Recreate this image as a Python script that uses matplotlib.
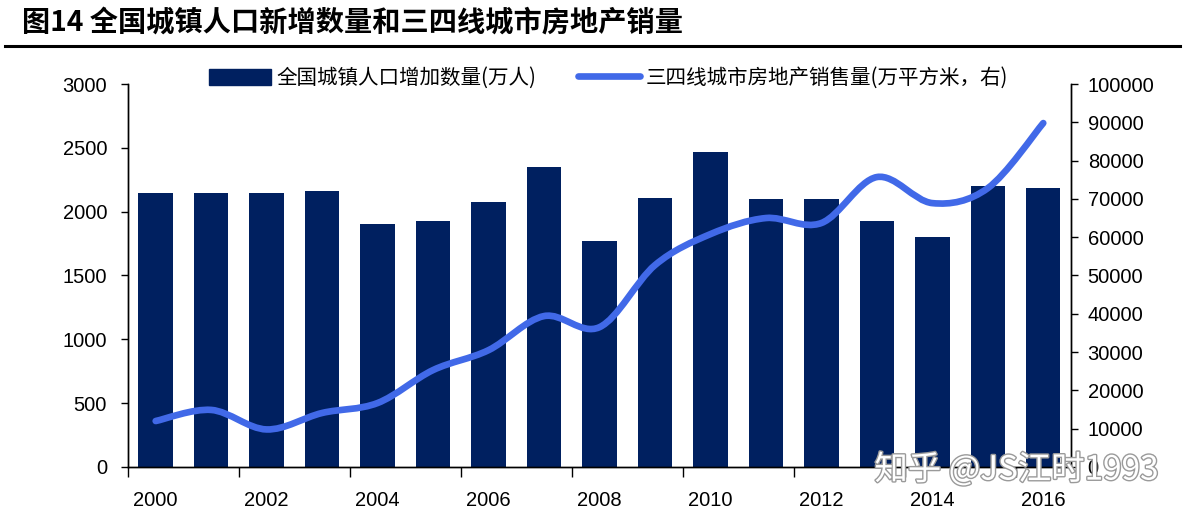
import matplotlib
matplotlib.use("Agg")
import matplotlib.pyplot as plt
from matplotlib.path import Path
from matplotlib.patches import PathPatch, Patch
from matplotlib.lines import Line2D
import matplotlib.patheffects as pe
import numpy as np

plt.rcParams['font.family'] = ['Liberation Sans', 'Noto Sans CJK SC', 'DejaVu Sans']

years = list(range(2000, 2017))
# 全国城镇人口增加数量(万人)
pop_added = [2150, 2150, 2145, 2160, 1905, 1925, 2075, 2350, 1770, 2105,
             2465, 2100, 2100, 1930, 1805, 2200, 2185]
# 三四线城市房地产销售量(万平方米)
sales_34 = [12000, 14900, 9800, 14100, 16700, 25300, 30500, 39400, 36500, 52700,
            60800, 65000, 63700, 75700, 68900, 72800, 89800]
xtick_years = years[::2]

bar_color = '#002060'
line_color = '#4169E8'
cjk = ['Noto Sans CJK SC', 'DejaVu Sans']

fig = plt.figure(figsize=(11.98, 5.27), dpi=100)
ax = fig.add_axes([0.1068, 0.1139, 0.7872, 0.7267])
ax2 = ax.twinx()

x = np.arange(len(years))
ax.bar(x, pop_added, width=0.62, color=bar_color, zorder=2)
ax.set_ylim(0, 3000)
ax.set_yticks(range(0, 3001, 500))
ax.set_xlim(-0.5, len(years) - 0.5)
ax.set_xticks(x[::2])
ax.set_xticklabels([str(y) for y in xtick_years])
ax.set_xticks(np.arange(-0.5, len(years), 2), minor=True)
ax.tick_params(axis='x', which='major', length=0, pad=17, labelsize=14.5)
ax.tick_params(axis='x', which='minor', length=7, width=1, direction='out')
ax.tick_params(axis='y', length=5, width=1, direction='out', pad=10, labelsize=14.5)

# smooth line (Catmull-Rom bezier through the data points)
px = x.astype(float)
py = np.array(sales_34, dtype=float)
verts = [(px[0], py[0])]
codes = [Path.MOVETO]
n = len(px)
for i in range(n - 1):
    p0 = (px[max(i - 1, 0)], py[max(i - 1, 0)])
    p1 = (px[i], py[i])
    p2 = (px[i + 1], py[i + 1])
    p3 = (px[min(i + 2, n - 1)], py[min(i + 2, n - 1)])
    c1 = (p1[0] + (p2[0] - p0[0]) / 6, p1[1] + (p2[1] - p0[1]) / 6)
    c2 = (p2[0] - (p3[0] - p1[0]) / 6, p2[1] - (p3[1] - p1[1]) / 6)
    verts += [c1, c2, p2]
    codes += [Path.CURVE4] * 3
ax2.add_patch(PathPatch(Path(verts, codes), fill=False, edgecolor=line_color,
                        lw=4.8, capstyle='round', joinstyle='round', zorder=3))
ax2.set_ylim(0, 100000)
ax2.set_yticks(range(0, 100001, 10000))
ax2.tick_params(axis='y', length=5, width=1, direction='out', pad=7, labelsize=14.5)

for a in (ax, ax2):
    a.spines['top'].set_visible(False)
    for s in ('left', 'right', 'bottom'):
        a.spines[s].set_linewidth(1)

handles = [Patch(facecolor=bar_color, edgecolor=bar_color),
           Line2D([0], [0], color=line_color, lw=4.8, solid_capstyle='round')]
labels = ['全国城镇人口增加数量(万人)', '三四线城市房地产销售量(万平方米，右)']
leg = fig.legend(handles, labels, ncol=2, frameon=False, loc='center',
                 bbox_to_anchor=(0.508, 0.852), handlelength=3.0, handleheight=0.8,
                 columnspacing=2.0, handletextpad=0.3,
                 prop={'family': cjk, 'size': 14.8})

fig.text(0.018, 0.958, '图14 全国城镇人口新增数量和三四线城市房地产销量',
         fontsize=20.3, fontweight='bold', family=['Noto Sans CJK SC', 'DejaVu Sans'],
         va='center', ha='left')
fig.add_artist(Line2D([0.004, 0.985], [0.913, 0.913], color='black', lw=2.2))

fig.text(0.73, 0.108, '知乎 @JS江时1993', fontsize=24, family=cjk, color='white',
         va='center', ha='left', zorder=10,
         path_effects=[pe.withStroke(linewidth=2, foreground='#9a9a9a')])

fig.savefig('out.png', dpi=100)
